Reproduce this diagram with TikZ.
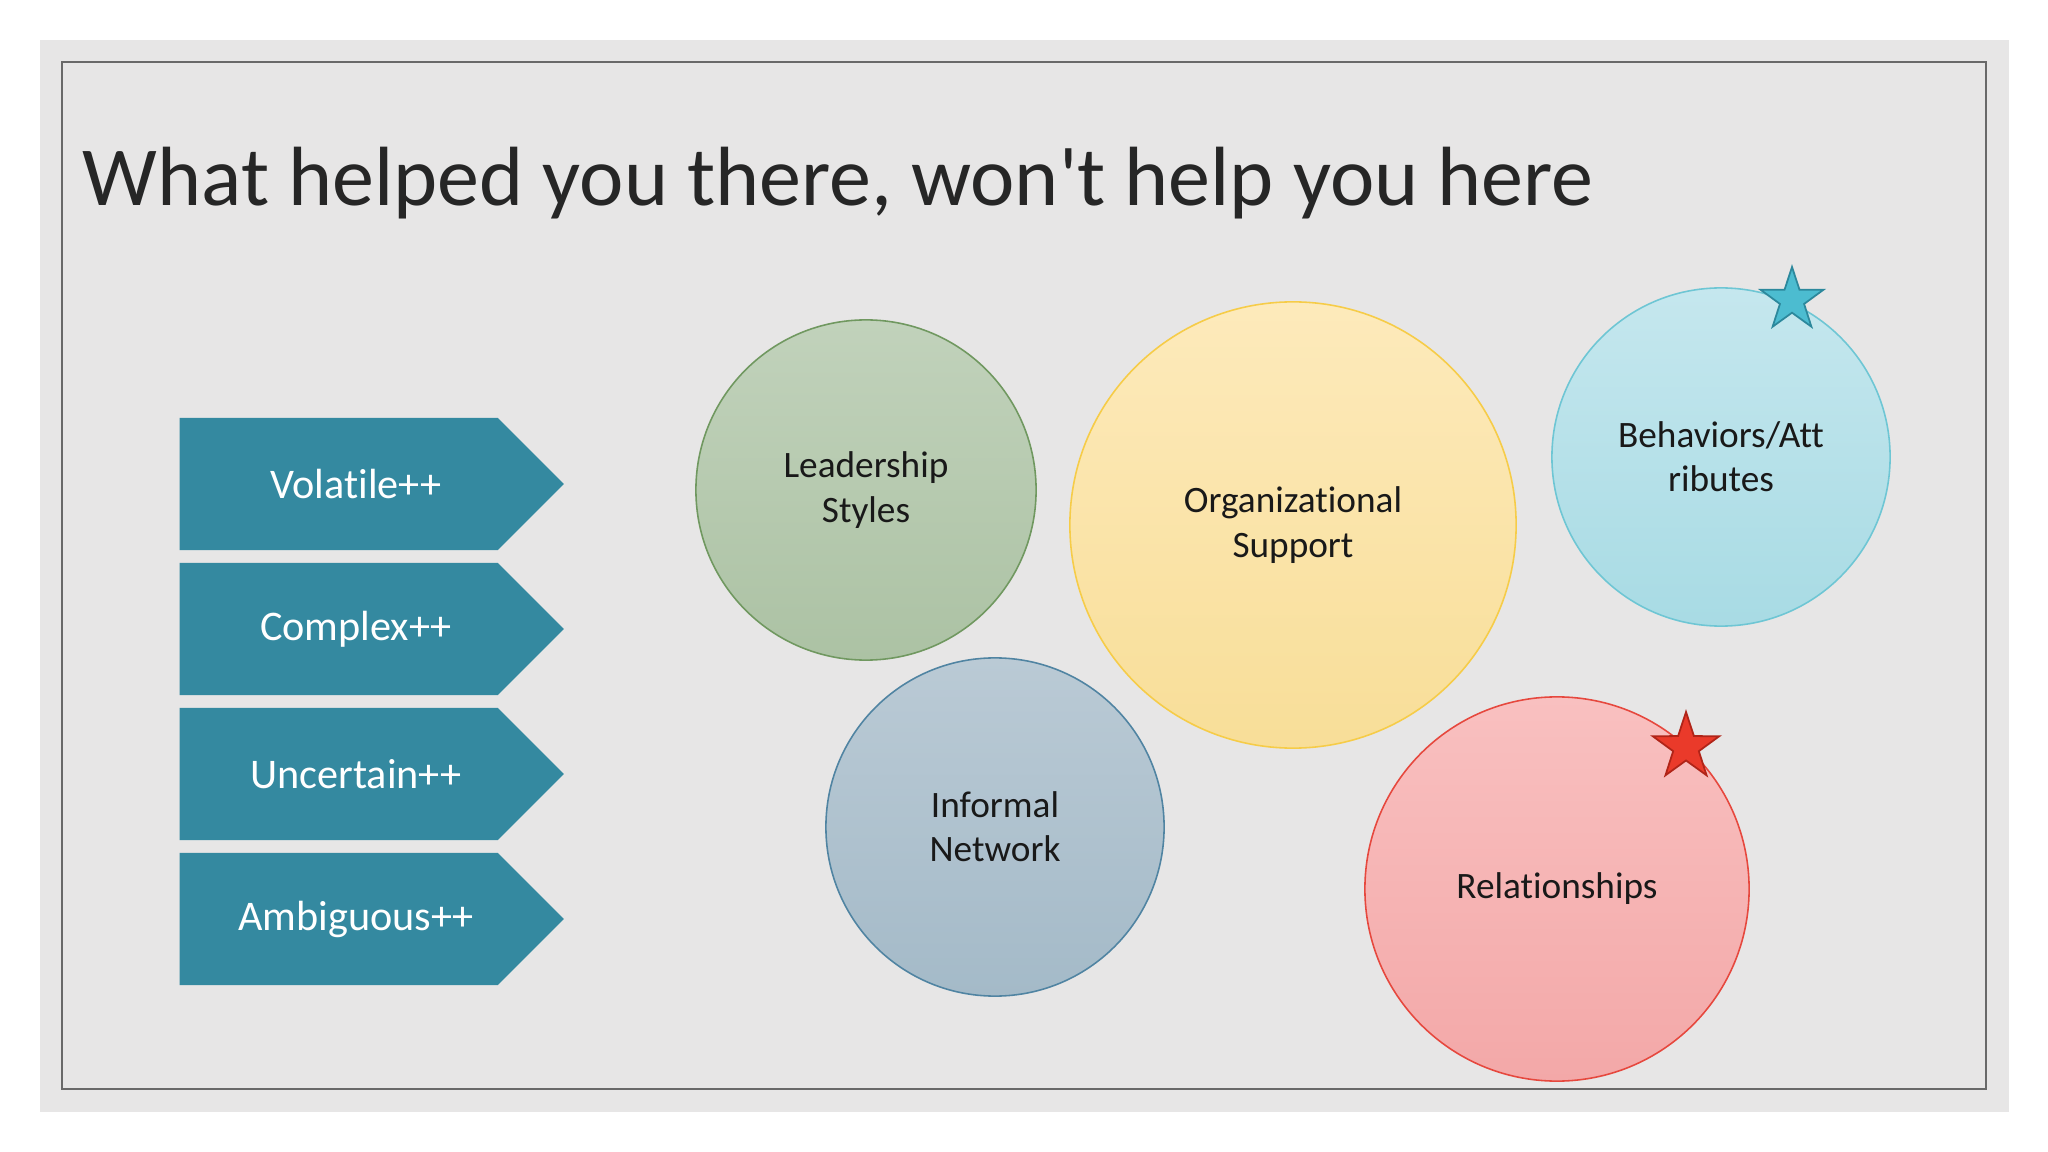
\documentclass[tikz,border=0pt]{standalone}
\usepackage{fontspec}
\setmainfont{Carlito}[Ligatures={NoCommon,TeXOff}]
\usetikzlibrary{positioning, shapes.geometric, shapes.symbols}
\definecolor{slidegray}{RGB}{231,230,230}
\definecolor{framegray}{RGB}{105,105,105}
\definecolor{chevteal}{RGB}{52,137,160}
\definecolor{titleink}{RGB}{38,38,38}
\definecolor{greentop}{RGB}{193,210,187}
\definecolor{greenbot}{RGB}{172,194,164}
\definecolor{greenline}{RGB}{112,152,96}
\definecolor{yellowtop}{RGB}{253,234,187}
\definecolor{yellowbot}{RGB}{248,222,152}
\definecolor{yellowline}{RGB}{246,204,72}
\definecolor{cyantop}{RGB}{197,231,238}
\definecolor{cyanbot}{RGB}{168,219,228}
\definecolor{cyanline}{RGB}{110,198,212}
\definecolor{bluetop}{RGB}{186,202,213}
\definecolor{bluebot}{RGB}{164,186,200}
\definecolor{blueline}{RGB}{80,132,162}
\definecolor{redtop}{RGB}{249,192,192}
\definecolor{redbot}{RGB}{243,168,168}
\definecolor{redline}{RGB}{230,72,62}
\definecolor{starcyan}{RGB}{76,188,208}
\definecolor{starcyanline}{RGB}{44,136,156}
\definecolor{starred}{RGB}{234,58,42}
\definecolor{starredline}{RGB}{176,36,24}

\begin{document}
\begin{tikzpicture}[x=0.01cm, y=-0.01cm,
    chevron/.style={signal, signal to=east, signal pointer angle=90,
        fill=chevteal, text=white, inner sep=0pt, anchor=west,
        minimum width=3.84cm, minimum height=1.32cm,
        font=\fontsize{12}{14}\selectfont},
    bubble/.style={circle, inner sep=0pt, align=center, line width=0.45pt,
        text=black!90, font=\fontsize{10.6}{12.6}\selectfont},
    mark star/.style={star, star points=5, star point ratio=2.6,
        inner sep=0pt, line width=0.5pt}]
        \useasboundingbox (0,0) rectangle (2048,1152);

        % Cadre
        \fill[slidegray] (40,40) rectangle (2009,1112);
        \draw[framegray, line width=0.6pt] (62,62) rectangle (1986,1089);

        % --- Titre ---
        \node[anchor=base west, inner sep=0pt, text=titleink,
              font=\fontsize{23.9}{29}\selectfont] (title) at (82,206)
              {What helped you there, won't help you here};

        % --- Fleches a gauche ---
        \foreach \i/\y/\txt in {1/484/Volatile++, 2/629/Complex++,
                                3/774/Uncertain++, 4/919/Ambiguous++} {
            \node[chevron] (chev\i) at (179,\y) {\hspace*{0.34cm}\txt};
        }

        % --- Bulles ---
        \node[bubble, minimum size=3.40cm, top color=greentop, bottom color=greenbot,
              draw=greenline] (lead) at (866,490) {Leadership\\Styles};
        \node[bubble, minimum size=4.46cm, top color=yellowtop, bottom color=yellowbot,
              draw=yellowline] (orga) at (1293,525) {Organizational\\Support};
        \node[bubble, minimum size=3.38cm, top color=cyantop, bottom color=cyanbot,
              draw=cyanline] (behav) at (1721,457) {Behaviors/Att\\ributes};
        \node[bubble, minimum size=3.38cm, top color=bluetop, bottom color=bluebot,
              draw=blueline] (info) at (995,827) {Informal\\Network};
        \node[bubble, minimum size=3.84cm, top color=redtop, bottom color=redbot,
              draw=redline] (rel) at (1557,889) {Relationships};

        % --- Etoiles ---
        \node[mark star, minimum size=0.66cm, fill=starcyan, draw=starcyanline]
              (starB) at (1792,300) {};
        \node[mark star, minimum size=0.70cm, fill=starred, draw=starredline]
              (starR) at (1686,747) {};
    \end{tikzpicture}
\end{document}
